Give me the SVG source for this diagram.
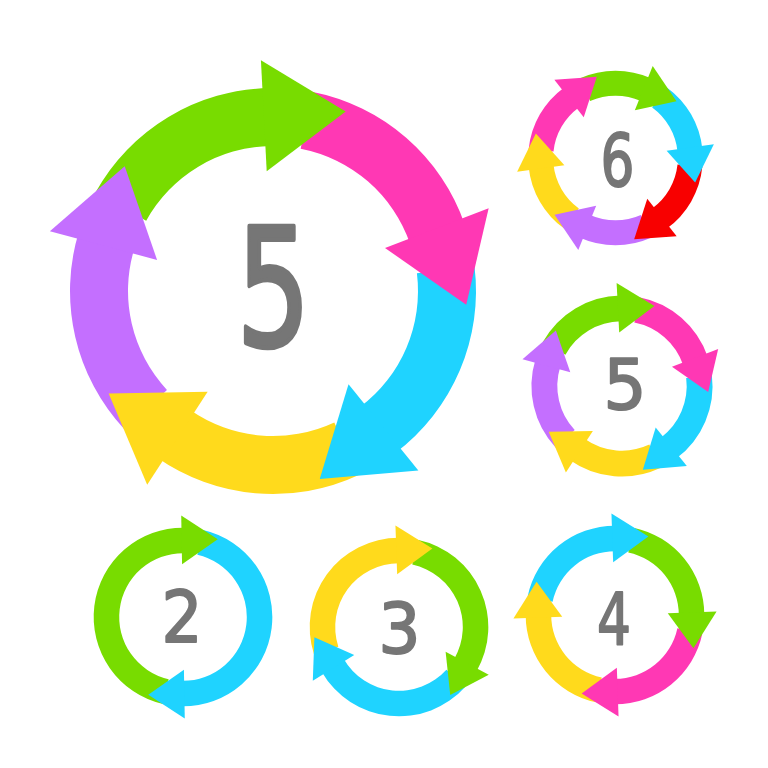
<svg xmlns="http://www.w3.org/2000/svg" width="768" height="768" viewBox="0 0 768 768">
<style>
.g{fill:#78DC00}.p{fill:#FF38B4}.c{fill:#1FD3FF}.y{fill:#FFDA1C}.v{fill:#C46FFF}.r{fill:#F80000}
.num{font-family:"DejaVu Sans",sans-serif;font-weight:normal;fill:#767676;stroke:#767676;stroke-linejoin:round;text-anchor:middle}
</style>
<defs>
<path id="h" d="M0 -120 L0 -231 L82 -175.5Z"/>
<path id="b2" d="M-49.11 196.97 A203 203 0 0 1 7.08 -202.88 L5.06 -144.91 A145 145 0 0 0 -35.08 140.69Z"/>
<path id="b3" d="M-195.14 55.95 A203 203 0 0 1 7.08 -202.88 L5.06 -144.91 A145 145 0 0 0 -139.39 39.96Z"/>
<path id="b4" d="M-196.97 -49.11 A203 203 0 0 1 7.08 -202.88 L5.06 -144.91 A145 145 0 0 0 -140.69 -35.08Z"/>
<path id="b5" d="M-172.15 -107.57 A203 203 0 0 1 7.08 -202.88 L5.06 -144.91 A145 145 0 0 0 -122.96 -76.84Z"/>
<path id="b6" d="M-146.03 -141.02 A203 203 0 0 1 7.08 -202.88 L5.06 -144.91 A145 145 0 0 0 -104.30 -100.73Z"/>
</defs>
<rect width="768" height="768" fill="#ffffff"/>

<g id="cycle-5-large">
<g transform="translate(273 291)">
<use href="#b5" class="v" transform="rotate(285)"/>
<use href="#b5" class="g" transform="rotate(357)"/>
<use href="#b5" class="p" transform="rotate(69)"/>
<use href="#b5" class="c" transform="rotate(141)"/>
<use href="#b5" class="y" transform="rotate(213)"/>
<use href="#h" class="v" transform="rotate(285)"/>
<use href="#h" class="g" transform="rotate(357)"/>
<use href="#h" class="p" transform="rotate(69)"/>
<use href="#h" class="c" transform="rotate(141)"/>
<use href="#h" class="y" transform="rotate(213)"/>
</g>
<text class="num" x="273.5" y="346" font-size="164" stroke-width="4.5" textLength="74" lengthAdjust="spacingAndGlyphs">5</text>
</g>

<g id="cycle-6">
<g transform="translate(615.5 158) scale(0.43)">
<use href="#b6" class="g" transform="rotate(22)"/>
<use href="#b6" class="c" transform="rotate(82)"/>
<use href="#b6" class="r" transform="rotate(142)"/>
<use href="#b6" class="v" transform="rotate(202)"/>
<use href="#b6" class="y" transform="rotate(262)"/>
<use href="#b6" class="p" transform="rotate(322)"/>
<use href="#h" class="g" transform="rotate(22)"/>
<use href="#h" class="c" transform="rotate(82)"/>
<use href="#h" class="r" transform="rotate(142)"/>
<use href="#h" class="v" transform="rotate(202)"/>
<use href="#h" class="y" transform="rotate(262)"/>
<use href="#h" class="p" transform="rotate(322)"/>
</g>
<text class="num" x="617.5" y="186" font-size="73" stroke-width="2" textLength="34" lengthAdjust="spacingAndGlyphs">6</text>
</g>

<g id="cycle-5-small">
<g transform="translate(622 386) scale(0.446)">
<use href="#b5" class="v" transform="rotate(285)"/>
<use href="#b5" class="g" transform="rotate(357)"/>
<use href="#b5" class="p" transform="rotate(69)"/>
<use href="#b5" class="c" transform="rotate(141)"/>
<use href="#b5" class="y" transform="rotate(213)"/>
<use href="#h" class="v" transform="rotate(285)"/>
<use href="#h" class="g" transform="rotate(357)"/>
<use href="#h" class="p" transform="rotate(69)"/>
<use href="#h" class="c" transform="rotate(141)"/>
<use href="#h" class="y" transform="rotate(213)"/>
</g>
<text class="num" x="625" y="409" font-size="70" stroke-width="2" textLength="43" lengthAdjust="spacingAndGlyphs">5</text>
</g>

<g id="cycle-2">
<g transform="translate(183 617) scale(0.44)">
<use href="#b2" class="g" transform="rotate(359)"/>
<use href="#b2" class="c" transform="rotate(179)"/>
<use href="#h" class="g" transform="rotate(359)"/>
<use href="#h" class="c" transform="rotate(179)"/>
</g>
<text class="num" x="182" y="642" font-size="72" stroke-width="2" textLength="41" lengthAdjust="spacingAndGlyphs">2</text>
</g>

<g id="cycle-3">
<g transform="translate(399 627) scale(0.44)">
<use href="#b3" class="y" transform="rotate(358)"/>
<use href="#b3" class="g" transform="rotate(118)"/>
<use href="#b3" class="c" transform="rotate(238)"/>
<use href="#h" class="y" transform="rotate(358)"/>
<use href="#h" class="g" transform="rotate(118)"/>
<use href="#h" class="c" transform="rotate(238)"/>
</g>
<text class="num" x="399.5" y="653" font-size="70" stroke-width="2" textLength="42" lengthAdjust="spacingAndGlyphs">3</text>
</g>

<g id="cycle-4">
<g transform="translate(615 615) scale(0.44)">
<use href="#b4" class="c" transform="rotate(358)"/>
<use href="#b4" class="g" transform="rotate(88)"/>
<use href="#b4" class="p" transform="rotate(178)"/>
<use href="#b4" class="y" transform="rotate(268)"/>
<use href="#h" class="c" transform="rotate(358)"/>
<use href="#h" class="g" transform="rotate(88)"/>
<use href="#h" class="p" transform="rotate(178)"/>
<use href="#h" class="y" transform="rotate(268)"/>
</g>
<text class="num" x="614" y="644" font-size="72" stroke-width="2" textLength="34" lengthAdjust="spacingAndGlyphs">4</text>
</g>
</svg>
